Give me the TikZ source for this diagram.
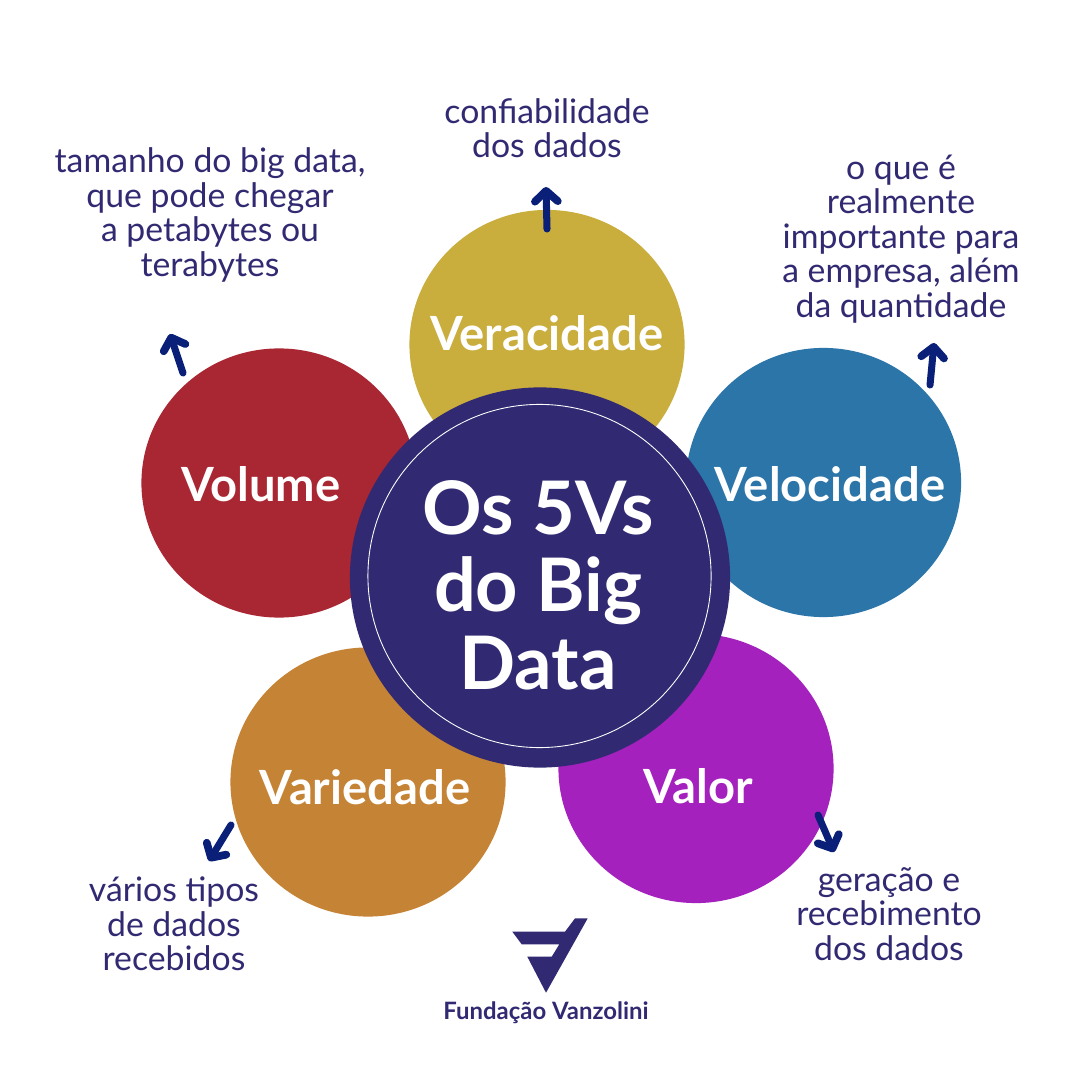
\documentclass[tikz,border=0pt]{standalone}
\usepackage{fontspec}
\setmainfont{Lato}
\usepackage{tikz}
\usetikzlibrary{arrows.meta,shapes.geometric}
\definecolor{navy}{HTML}{312A72}
\definecolor{arrowblue}{HTML}{0A1F78}
\definecolor{veraColor}{HTML}{C9AD3D}
\definecolor{voluColor}{HTML}{A92633}
\definecolor{veloColor}{HTML}{2C75A9}
\definecolor{variColor}{HTML}{C58335}
\definecolor{valoColor}{HTML}{A421BD}
\tikzset{
  petal/.style={ellipse,minimum width=2.75cm,minimum height=2.69cm,inner sep=0pt},
  vname/.style={text=white,font=\fontsize{13.4}{16}\selectfont\bfseries},
  note/.style={text=navy,align=center,font=\fontsize{9.6}{9.8}\selectfont},
  pointer/.style={arrowblue,line width=2pt,line cap=round,-{Straight Barb[length=3pt,width=6.5pt,line width=2.2pt,round]}}
}
\begin{document}
\begin{tikzpicture}[x=0.01cm,y=-0.01cm]
  \useasboundingbox (0,0) rectangle (1080,1080);
  \fill[white] (0,0) rectangle (1080,1080);
  % circles
  \node[petal,fill=veraColor] (vera) at (547,344.5) {};
  \node[petal,fill=voluColor] (volu) at (279,483) {};
  \node[petal,fill=veloColor] (velo) at (823.5,482.5) {};
  \node[petal,fill=variColor] (vari) at (368,782) {};
  \node[petal,fill=valoColor] (valo) at (696,768.5) {};
  \node[circle,fill=navy,minimum size=3.8cm,inner sep=0pt] (hub) at (540,577.5) {};
  \node[circle,draw=white,line width=0.25pt,minimum size=3.43cm,inner sep=0pt] (ring) at (539.5,576) {};
  % names
  \node[vname] (veraname) at (547,333) {Veracidade};
  \node[vname] (voluname) at (261,484) {Volume};
  \node[vname] (veloname) at (830,484) {Velocidade};
  \node[vname] (variname) at (365,787) {Variedade};
  \node[vname] (valoname) at (698,786) {Valor};
  \node[text=white,align=center,font=\fontsize{21}{22}\selectfont\bfseries] (title) at (538,585) {Os 5Vs\\do Big\\Data};
  % notes
  \node[note] (veranote) at (547,128) {confiabilidade\\dos dados};
  \node[note] (volunote) at (210,215) {tamanho do big data,\\que pode chegar\\a petabytes ou\\terabytes};
  \node[note] (velonote) at (901,239) {o que é\\realmente\\importante para\\a empresa, além\\da quantidade};
  \node[note] (varinote) at (174,924) {vários tipos\\de dados\\recebidos};
  \node[note] (valonote) at (889,914) {geração e\\recebimento\\dos dados};
  % arrows
  \coordinate (verafrom) at (547,229);
  \coordinate (verato) at (546,187);
  \coordinate (volufrom) at (183,373);
  \coordinate (voluto) at (170,334);
  \coordinate (velofrom) at (930,385);
  \coordinate (veloto) at (934,343);
  \coordinate (varifrom) at (231,825);
  \coordinate (varito) at (209,861);
  \coordinate (valofrom) at (818,815);
  \coordinate (valoto) at (834,852);
  \draw[pointer] (verafrom) -- (verato);
  \draw[pointer] (volufrom) -- (voluto);
  \draw[pointer] (velofrom) -- (veloto);
  \draw[pointer] (varifrom) -- (varito);
  \draw[pointer] (valofrom) -- (valoto);
  % logo
  \fill[navy] (587.7,918.3) -- (575,918.3) -- (565,931.7) -- (512.3,931.7) -- (521.7,944.3) -- (559.3,944.3)
    -- (551.7,956.7) -- (527.3,956.7) -- (546,992.7) -- cycle;
  \node[text=navy,font=\fontsize{6.8}{8}\selectfont\bfseries] (brand) at (546,1013) {Fundação Vanzolini};
\end{tikzpicture}
\end{document}
